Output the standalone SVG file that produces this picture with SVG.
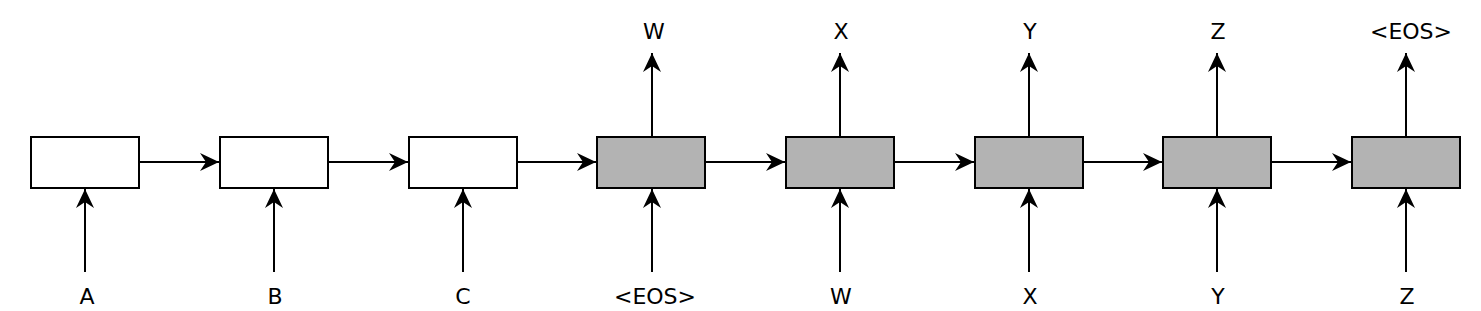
<svg xmlns="http://www.w3.org/2000/svg" width="1481" height="311" viewBox="0 0 1481 311">
<style>
.enc{fill:#ffffff;stroke:#000;stroke-width:2}
.dec{fill:#b3b3b3;stroke:#000;stroke-width:2}
.ln{stroke:#000;stroke-width:2;fill:none}
text{font-family:"DejaVu Sans",Verdana,sans-serif;font-size:22px;fill:#000;text-anchor:middle}
</style>
<defs>
<marker id="ah" markerUnits="userSpaceOnUse" markerWidth="22" markerHeight="22" viewBox="-20 -11 22 22" refX="0" refY="0" orient="auto">
<path d="M0,0 L-19,-9 L-13,0 L-19,9 Z" fill="#000"/>
</marker>
</defs>
<g id="connectors">
<line class="ln" x1="139" y1="162" x2="219" y2="162" marker-end="url(#ah)"/>
<line class="ln" x1="328" y1="162" x2="408" y2="162" marker-end="url(#ah)"/>
<line class="ln" x1="517" y1="162" x2="596" y2="162" marker-end="url(#ah)"/>
<line class="ln" x1="705" y1="162" x2="785" y2="162" marker-end="url(#ah)"/>
<line class="ln" x1="894" y1="162" x2="974" y2="162" marker-end="url(#ah)"/>
<line class="ln" x1="1083" y1="162" x2="1162" y2="162" marker-end="url(#ah)"/>
<line class="ln" x1="1271" y1="162" x2="1351" y2="162" marker-end="url(#ah)"/>
<line class="ln" x1="85" y1="272" x2="85" y2="189" marker-end="url(#ah)"/>
<line class="ln" x1="274" y1="272" x2="274" y2="189" marker-end="url(#ah)"/>
<line class="ln" x1="463" y1="272" x2="463" y2="189" marker-end="url(#ah)"/>
<line class="ln" x1="652" y1="272" x2="652" y2="189" marker-end="url(#ah)"/>
<line class="ln" x1="840" y1="272" x2="840" y2="189" marker-end="url(#ah)"/>
<line class="ln" x1="1029" y1="272" x2="1029" y2="189" marker-end="url(#ah)"/>
<line class="ln" x1="1217" y1="272" x2="1217" y2="189" marker-end="url(#ah)"/>
<line class="ln" x1="1406" y1="272" x2="1406" y2="189" marker-end="url(#ah)"/>
<line class="ln" x1="652" y1="136" x2="652" y2="53" marker-end="url(#ah)"/>
<line class="ln" x1="840" y1="136" x2="840" y2="53" marker-end="url(#ah)"/>
<line class="ln" x1="1029" y1="136" x2="1029" y2="53" marker-end="url(#ah)"/>
<line class="ln" x1="1217" y1="136" x2="1217" y2="53" marker-end="url(#ah)"/>
<line class="ln" x1="1406" y1="136" x2="1406" y2="53" marker-end="url(#ah)"/>
</g>
<g id="enc1"><rect class="enc" x="31" y="137" width="108" height="51"/></g>
<g id="enc2"><rect class="enc" x="220" y="137" width="108" height="51"/></g>
<g id="enc3"><rect class="enc" x="409" y="137" width="108" height="51"/></g>
<g id="dec1"><rect class="dec" x="597" y="137" width="108" height="51"/></g>
<g id="dec2"><rect class="dec" x="786" y="137" width="108" height="51"/></g>
<g id="dec3"><rect class="dec" x="975" y="137" width="108" height="51"/></g>
<g id="dec4"><rect class="dec" x="1163" y="137" width="108" height="51"/></g>
<g id="dec5"><rect class="dec" x="1352" y="137" width="108" height="51"/></g>
<g id="in-labels">
<text x="87" y="304">A</text>
<text x="275" y="304">B</text>
<text x="463" y="304">C</text>
<text x="655" y="304">&lt;EOS&gt;</text>
<text x="841" y="304">W</text>
<text x="1030" y="304">X</text>
<text x="1218" y="304">Y</text>
<text x="1407" y="304">Z</text>
</g>
<g id="out-labels">
<text x="654" y="39">W</text>
<text x="841" y="39">X</text>
<text x="1030" y="39">Y</text>
<text x="1218" y="39">Z</text>
<text x="1411" y="39">&lt;EOS&gt;</text>
</g>
</svg>
